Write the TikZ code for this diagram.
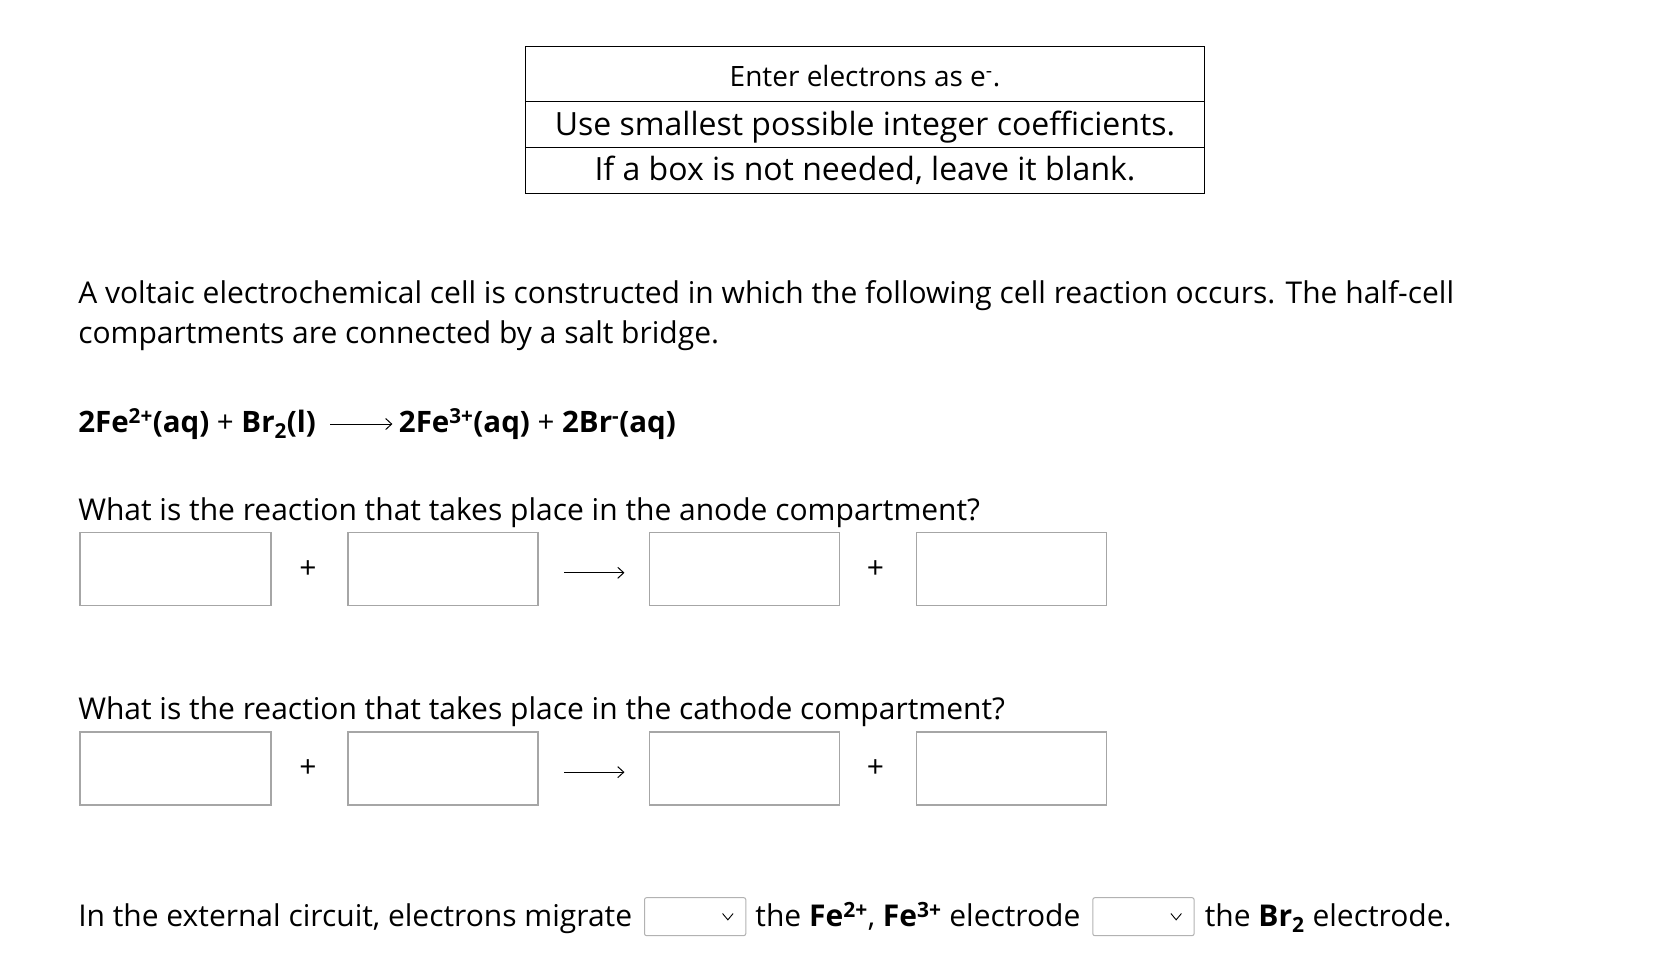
\documentclass[tikz,border=0pt]{standalone}
\usepackage{fontspec}
\setmainfont{Open Sans}
\usetikzlibrary{arrows.meta}
\begin{document}
\begin{tikzpicture}[x=1.055pt,y=-1.055pt,
  txt/.style={anchor=base west,inner sep=0pt,font=\fontsize{30}{34}\selectfont},
  eq/.style={anchor=base west,inner sep=0pt,font=\fontsize{29.5}{32}\selectfont},
  ansbox/.style={draw=gray!70,line width=1.4pt},
  ddbox/.style={draw=gray!60,line width=1pt,rounded corners=2pt},
  arr/.style={line width=1pt,-{Straight Barb[length=6pt,width=11pt]}},
  ctxt/.style={inner sep=0pt,font=\fontsize{32}{34}\selectfont}]
\useasboundingbox (0,0) rectangle (1568,914);
% table
\draw[line width=1pt] (498,44) rectangle (1142,183);
\draw[line width=1pt] (498,96) -- (1142,96) (498,140) -- (1142,140);
\node[ctxt,font=\fontsize{28}{30}\selectfont,anchor=base] (t1) at (820,82) {Enter electrons as e\textsuperscript{-}.};
\node[ctxt,anchor=base] (t2) at (820,128) {Use smallest possible integer coefficients.};
\node[ctxt,anchor=base] (t3) at (820,171) {If a box is not needed, leave it blank.};
% text
\node[txt] (p1) at (74,288) {A voltaic electrochemical cell is constructed in which the following cell reaction occurs. The half-cell};
\node[txt] (p2) at (74,326) {compartments are connected by a salt bridge.};
\node[eq] (e1) at (74,410) {\textbf{2Fe\textsuperscript{2+}(aq)} + \textbf{Br\textsubscript{2}(l)}};
\node[eq] (e2) at (378,410) {\textbf{2Fe\textsuperscript{3+}(aq)} + \textbf{2Br\textsuperscript{-}(aq)}};
\coordinate (ea) at (313,402);
\coordinate (eb) at (372,402);
\draw[arr] (ea) -- (eb);
\node[txt] (q1) at (74,493) {What is the reaction that takes place in the anode compartment?};
\node[txt] (q2) at (74,682) {What is the reaction that takes place in the cathode compartment?};
\foreach \y/\n in {505/a,694/c}{
  \draw[ansbox] (76,\y) rectangle (257,\y+69);
  \draw[ansbox] (330,\y) rectangle (510,\y+69);
  \draw[ansbox] (616,\y) rectangle (796,\y+69);
  \draw[ansbox] (869,\y) rectangle (1049,\y+69);
  \node[ctxt,font=\fontsize{30}{32}\selectfont] (p\n1) at (292,\y+35) {+};
  \node[ctxt,font=\fontsize{30}{32}\selectfont] (p\n2) at (830,\y+35) {+};
  \draw[arr] (535,\y+38) -- (592,\y+38);
}
\node[txt] (l1) at (74,878) {In the external circuit, electrons migrate};
\draw[ddbox] (611,851) rectangle (707,887);
\draw[line width=0.9pt] (685,866) -- (690,872) -- (695,866);
\node[txt] (l2) at (716,878) {the \textbf{Fe\textsuperscript{2+}}, \textbf{Fe\textsuperscript{3+}} electrode};
\draw[ddbox] (1036,851) rectangle (1132,887);
\draw[line width=0.9pt] (1110,866) -- (1115,872) -- (1120,866);
\node[txt] (l3) at (1142,878) {the \textbf{Br\textsubscript{2}} electrode.};
\end{tikzpicture}
\end{document}
